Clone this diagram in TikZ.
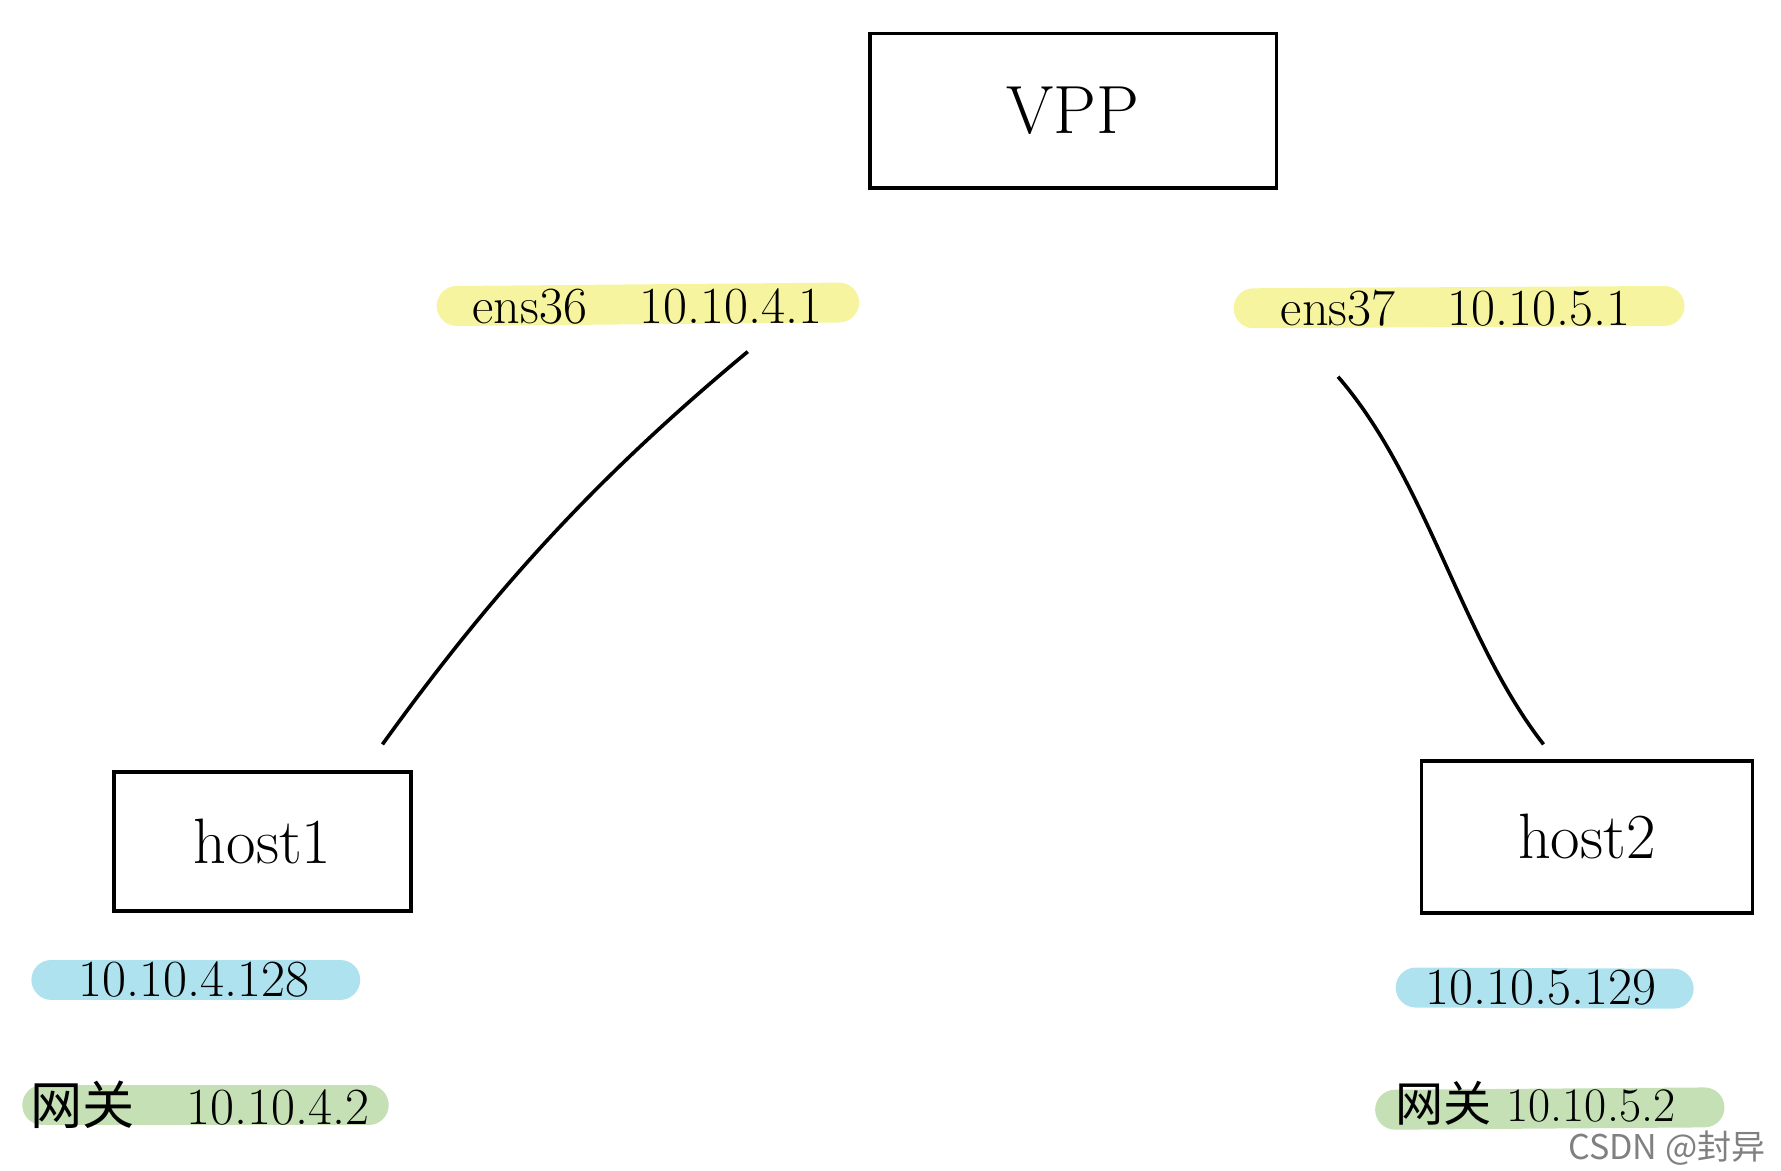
\documentclass[tikz,border=0pt]{standalone}
\usepackage{fontspec}
\newfontfamily\cjk{Noto Sans CJK SC}
\definecolor{hy}{HTML}{F6F49E}
\definecolor{hc}{HTML}{ADE2EE}
\definecolor{hg}{HTML}{C4E0B4}
\begin{document}
\begin{tikzpicture}[x=0.02cm,y=-0.02cm,
  hl/.style={line width=0.7cm,line cap=round},
  box/.style={draw,line width=1.8pt,minimum width=#1},
  lbl/.style={font=\fontsize{26}{30}\selectfont},
  wire/.style={line width=1.8pt}]
\useasboundingbox (0,0) rectangle (1560,1025);
\node[box=356*0.02cm,minimum height=135*0.02cm,font=\fontsize{34}{40}\selectfont] (vpp) at (940,97) {VPP};
\node[box=260*0.02cm,minimum height=122*0.02cm,font=\fontsize{32}{38}\selectfont] (h1) at (230,737) {host1};
\node[box=290*0.02cm,minimum height=133*0.02cm,font=\fontsize{32}{38}\selectfont] (h2) at (1390,733) {host2};
\draw[hl,hy] (400,268) -- (735,265);
\draw[hl,hy] (1098,270) -- (1458,268);
\draw[hl,hc] (45,858) -- (298,858);
\draw[hl,hg] (37,968) -- (323,968);
\draw[hl,hc] (1240,865) -- (1466,866);
\draw[hl,hg] (1222,972) -- (1493,970);
\node[lbl] (e36) at (567,268) {ens36\quad 10.10.4.1};
\node[lbl] (e37) at (1275,270) {ens37\quad 10.10.5.1};
\node[lbl] (a1) at (170,858) {10.10.4.128};
\node[lbl] (g1) at (175,968) {{\cjk 网关}\quad 10.10.4.2};
\node[lbl] (a2) at (1350,865) {10.10.5.129};
\node[lbl,font=\fontsize{24}{28}\selectfont] (g2) at (1345,966) {{\cjk 网关} 10.10.5.2};
\coordinate (p1) at (655,308); \coordinate (q1) at (335,652);
\coordinate (p2) at (1172,330); \coordinate (q2) at (1352,652);
\draw[wire] (p1) .. controls (520,420) and (430,520) .. (q1);
\draw[wire] (p2) .. controls (1250,420) and (1280,560) .. (q2);
\node[gray,font=\fontsize{17}{20}\selectfont\cjk] (wm) at (1460,1006) {CSDN @封异};
\end{tikzpicture}
\end{document}
